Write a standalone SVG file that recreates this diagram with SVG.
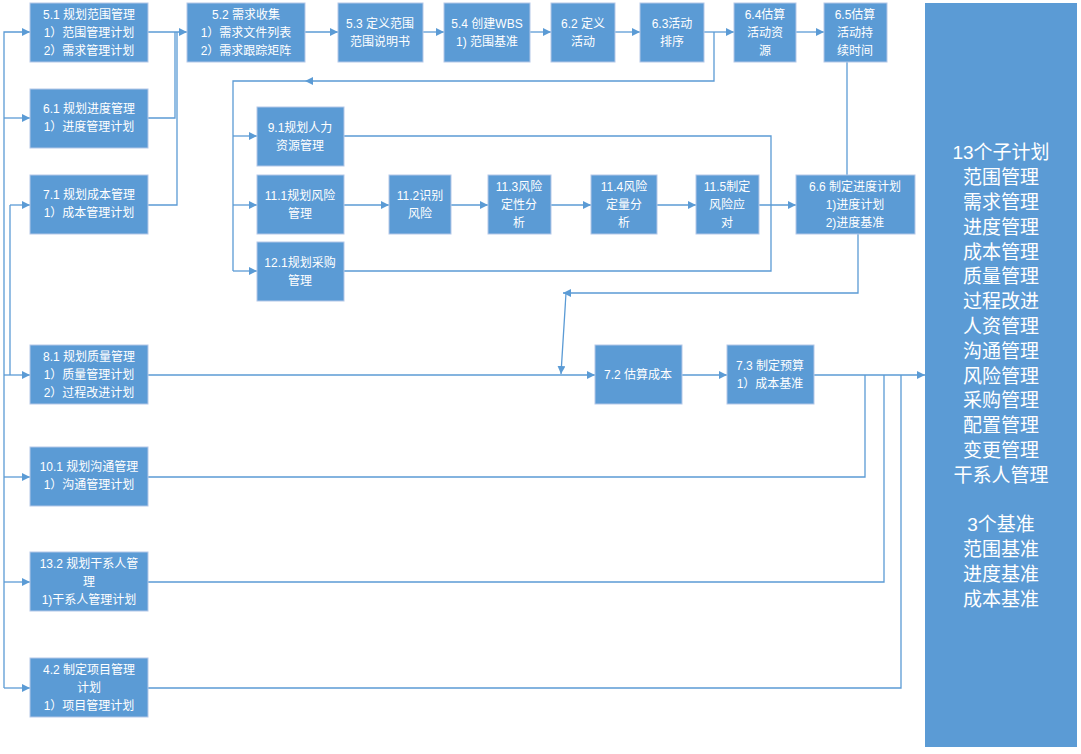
<svg xmlns="http://www.w3.org/2000/svg" width="1081" height="754" viewBox="0 0 1081 754">
<style>
.n rect{fill:#5b9bd5;stroke:#b4c7e7;stroke-width:1}
.n text{fill:#fff;font-family:"Liberation Sans","Noto Sans CJK SC",sans-serif;font-size:12px;text-anchor:middle}
.c path{fill:none;stroke:#5b9bd5;stroke-width:1.3}
.big text{fill:#fff;font-family:"Liberation Sans","Noto Sans CJK SC",sans-serif;font-size:19px;text-anchor:middle}
</style>
<defs><marker id="a" viewBox="0 0 10 10" refX="10" refY="5" markerWidth="8" markerHeight="8" orient="auto" markerUnits="userSpaceOnUse"><path d="M0,0L10,5L0,10z" fill="#5b9bd5"/></marker></defs>
<rect width="1081" height="754" fill="#fff"/>
<g class="c">
<path d="M148,32H187" marker-end="url(#a)"/>
<path d="M148,118H175V32"/>
<path d="M148,205H177V32"/>
<path d="M4,688V32H30" marker-end="url(#a)"/>
<path d="M4,118H30" marker-end="url(#a)"/>
<path d="M10,205H30" marker-end="url(#a)"/>
<path d="M10,205V375"/>
<path d="M4,375H30" marker-end="url(#a)"/>
<path d="M4,477H30" marker-end="url(#a)"/>
<path d="M4,582H30" marker-end="url(#a)"/>
<path d="M4,688H30" marker-end="url(#a)"/>
<path d="M305,32H338" marker-end="url(#a)"/>
<path d="M423,32H444" marker-end="url(#a)"/>
<path d="M530,32H551" marker-end="url(#a)"/>
<path d="M615,32H640" marker-end="url(#a)"/>
<path d="M704,32H734" marker-end="url(#a)"/>
<path d="M796,32H824" marker-end="url(#a)"/>
<path d="M714,32V81H305" marker-end="url(#a)"/>
<path d="M305,81H233V271"/>
<path d="M233,136H257" marker-end="url(#a)"/>
<path d="M233,205H257" marker-end="url(#a)"/>
<path d="M233,271H257" marker-end="url(#a)"/>
<path d="M847,62V175"/>
<path d="M344,205H389" marker-end="url(#a)"/>
<path d="M451,205H488" marker-end="url(#a)"/>
<path d="M551,205H591" marker-end="url(#a)"/>
<path d="M657,205H696" marker-end="url(#a)"/>
<path d="M759,205H796" marker-end="url(#a)"/>
<path d="M344,136H771V271H344"/>
<path d="M858,234V293H563" marker-end="url(#a)"/>
<path d="M566,293L561,374" marker-end="url(#a)"/>
<path d="M148,375H595" marker-end="url(#a)"/>
<path d="M682,375H727" marker-end="url(#a)"/>
<path d="M814,375H925" marker-end="url(#a)"/>
<path d="M148,477H865V375"/>
<path d="M148,582H884V375"/>
<path d="M148,688H901V375"/>
</g>
<g id="big" class="big">
<rect x="925" y="3" width="152" height="744" fill="#5b9bd5"/>
<text x="1001" y="159">13个子计划</text>
<text x="1001" y="184">范围管理</text>
<text x="1001" y="209">需求管理</text>
<text x="1001" y="234">进度管理</text>
<text x="1001" y="259">成本管理</text>
<text x="1001" y="283">质量管理</text>
<text x="1001" y="308">过程改进</text>
<text x="1001" y="333">人资管理</text>
<text x="1001" y="358">沟通管理</text>
<text x="1001" y="383">风险管理</text>
<text x="1001" y="407">采购管理</text>
<text x="1001" y="432">配置管理</text>
<text x="1001" y="457">变更管理</text>
<text x="1001" y="482">干系人管理</text>
<text x="1001" y="531">3个基准</text>
<text x="1001" y="556">范围基准</text>
<text x="1001" y="581">进度基准</text>
<text x="1001" y="606">成本基准</text>
</g>
<g id="n51" class="n"><rect x="30" y="3" width="118" height="59"/><text x="89" y="19">5.1 规划范围管理</text><text x="89" y="37">1）范围管理计划</text><text x="89" y="55">2）需求管理计划</text></g>
<g id="n61" class="n"><rect x="30" y="89" width="118" height="59"/><text x="89" y="113">6.1 规划进度管理</text><text x="89" y="131">1）进度管理计划</text></g>
<g id="n71" class="n"><rect x="30" y="175" width="118" height="59"/><text x="89" y="199">7.1 规划成本管理</text><text x="89" y="217">1）成本管理计划</text></g>
<g id="n81" class="n"><rect x="30" y="345" width="118" height="59"/><text x="89" y="361">8.1 规划质量管理</text><text x="89" y="379">1）质量管理计划</text><text x="89" y="397">2）过程改进计划</text></g>
<g id="n101" class="n"><rect x="30" y="447" width="118" height="59"/><text x="89" y="471">10.1 规划沟通管理</text><text x="89" y="489">1）沟通管理计划</text></g>
<g id="n132" class="n"><rect x="30" y="552" width="118" height="59"/><text x="89" y="568">13.2 规划干系人管</text><text x="89" y="586">理</text><text x="89" y="604">1)干系人管理计划</text></g>
<g id="n42" class="n"><rect x="30" y="658" width="118" height="59"/><text x="89" y="674">4.2 制定项目管理</text><text x="89" y="692">计划</text><text x="89" y="710">1）项目管理计划</text></g>
<g id="n52" class="n"><rect x="187" y="3" width="118" height="59"/><text x="246" y="19">5.2 需求收集</text><text x="246" y="37">1）需求文件列表</text><text x="246" y="55">2）需求跟踪矩阵</text></g>
<g id="n53" class="n"><rect x="338" y="3" width="85" height="59"/><text x="380" y="28">5.3 定义范围</text><text x="380" y="46">范围说明书</text></g>
<g id="n54" class="n"><rect x="444" y="3" width="86" height="59"/><text x="487" y="28">5.4 创建WBS</text><text x="487" y="46">1) 范围基准</text></g>
<g id="n62" class="n"><rect x="551" y="3" width="64" height="59"/><text x="583" y="28">6.2 定义</text><text x="583" y="46">活动</text></g>
<g id="n63" class="n"><rect x="640" y="3" width="64" height="59"/><text x="672" y="28">6.3活动</text><text x="672" y="46">排序</text></g>
<g id="n64" class="n"><rect x="734" y="3" width="62" height="59"/><text x="765" y="19">6.4估算</text><text x="765" y="37">活动资</text><text x="765" y="55">源</text></g>
<g id="n65" class="n"><rect x="824" y="3" width="63" height="59"/><text x="855" y="19">6.5估算</text><text x="855" y="37">活动持</text><text x="855" y="55">续时间</text></g>
<g id="n91" class="n"><rect x="257" y="107" width="87" height="59"/><text x="300" y="132">9.1规划人力</text><text x="300" y="150">资源管理</text></g>
<g id="n111" class="n"><rect x="257" y="175" width="87" height="59"/><text x="300" y="200">11.1规划风险</text><text x="300" y="218">管理</text></g>
<g id="n121" class="n"><rect x="257" y="242" width="87" height="59"/><text x="300" y="267">12.1规划采购</text><text x="300" y="285">管理</text></g>
<g id="n112" class="n"><rect x="389" y="175" width="62" height="59"/><text x="420" y="200">11.2识别</text><text x="420" y="218">风险</text></g>
<g id="n113" class="n"><rect x="488" y="175" width="63" height="59"/><text x="519" y="191">11.3风险</text><text x="519" y="209">定性分</text><text x="519" y="227">析</text></g>
<g id="n114" class="n"><rect x="591" y="175" width="66" height="59"/><text x="624" y="191">11.4风险</text><text x="624" y="209">定量分</text><text x="624" y="227">析</text></g>
<g id="n115" class="n"><rect x="696" y="175" width="63" height="59"/><text x="727" y="191">11.5制定</text><text x="727" y="209">风险应</text><text x="727" y="227">对</text></g>
<g id="n66" class="n"><rect x="796" y="175" width="119" height="59"/><text x="855" y="191">6.6 制定进度计划</text><text x="855" y="209">1)进度计划</text><text x="855" y="227">2)进度基准</text></g>
<g id="n72" class="n"><rect x="595" y="345" width="87" height="59"/><text x="638" y="379">7.2 估算成本</text></g>
<g id="n73" class="n"><rect x="727" y="345" width="87" height="59"/><text x="770" y="370">7.3 制定预算</text><text x="770" y="388">1）成本基准</text></g>
</svg>
